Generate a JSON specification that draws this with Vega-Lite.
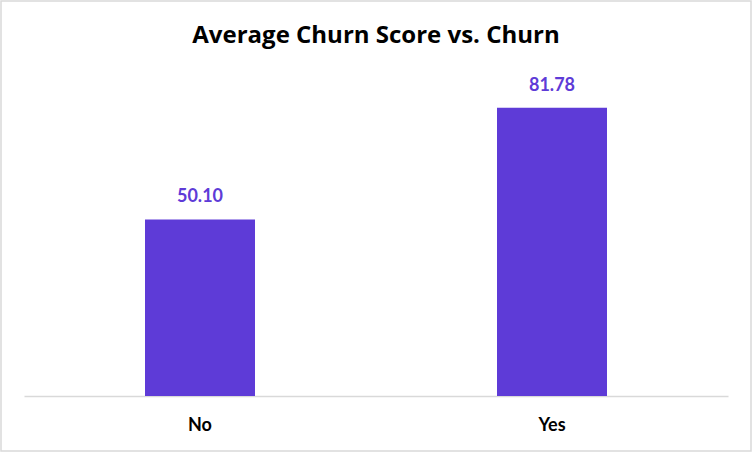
{
  "$schema": "https://vega.github.io/schema/vega-lite/v6.json",
  "autosize": {"type": "none"},
  "padding": 1,
  "width": 750,
  "height": 450,
  "background": "white",
  "title": {
    "text": "Average Churn Score vs. Churn",
    "anchor": "middle",
    "font": "Open Sans",
    "fontSize": 24,
    "fontWeight": "bold",
    "color": "#000000",
    "baseline": "alphabetic",
    "offset": -66
  },
  "config": {
    "view": {"stroke": "#d9d9d9", "strokeWidth": 1.5},
    "font": "Lato"
  },
  "data": {
    "values": [
      {"Churn": "No", "Score": 50.10},
      {"Churn": "Yes", "Score": 81.78}
    ]
  },
  "encoding": {
    "x": {
      "field": "Churn",
      "type": "nominal",
      "sort": null,
      "scale": {"range": [23, 727], "paddingInner": 0.6875, "paddingOuter": 0.34375},
      "axis": {
        "title": null,
        "orient": "bottom",
        "offset": -55,
        "ticks": false,
        "tickSize": 0,
        "domainColor": "#d9d9d9",
        "domainWidth": 1.5,
        "labelFont": "Lato",
        "labelFontSize": 18,
        "labelFontWeight": "bold",
        "labelColor": "#000000",
        "labelAngle": 0,
        "labelPadding": 20
      }
    },
    "y": {
      "field": "Score",
      "type": "quantitative",
      "scale": {"domain": [-15.6, 112.06], "nice": false, "zero": false},
      "axis": null
    }
  },
  "layer": [
    {
      "mark": {"type": "bar", "color": "#5E3BD7"},
      "encoding": {"y2": {"datum": 0}}
    },
    {
      "mark": {
        "type": "text",
        "font": "Lato",
        "fontSize": 18,
        "fontWeight": "bold",
        "color": "#5E3BD7",
        "baseline": "alphabetic",
        "dy": -17
      },
      "encoding": {"text": {"field": "Score", "type": "quantitative", "format": ".2f"}}
    }
  ]
}
